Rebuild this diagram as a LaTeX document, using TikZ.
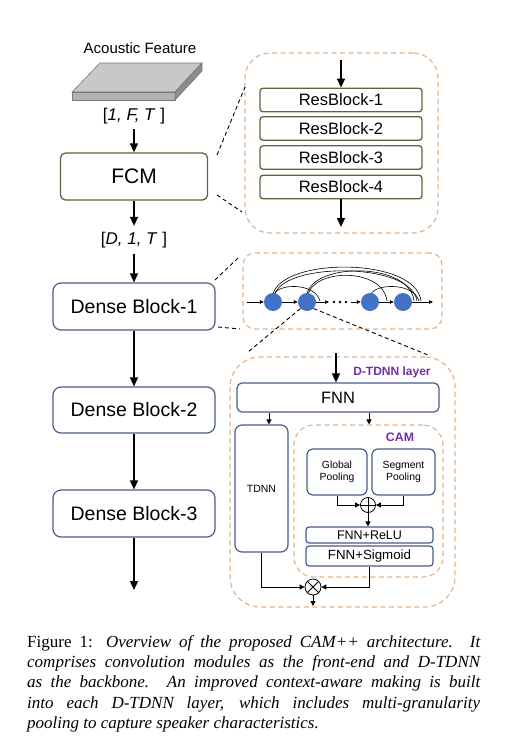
\documentclass[tikz,border=0pt]{standalone}
\usepackage{fontspec}
\setmainfont{Liberation Serif}
\setsansfont{Liberation Sans}
\renewcommand{\familydefault}{\sfdefault}
\usetikzlibrary{arrows.meta,calc}
\definecolor{fcmgreen}{RGB}{84,106,60}
\definecolor{boxblue}{RGB}{72,92,140}
\definecolor{dashtan}{RGB}{228,178,140}
\definecolor{camblue}{RGB}{68,114,196}
\definecolor{lblpurple}{RGB}{112,48,160}
\definecolor{slabtop}{RGB}{200,200,200}
\definecolor{slabfront}{RGB}{178,178,178}
\definecolor{slabside}{RGB}{140,140,140}
\definecolor{slabedge}{RGB}{120,120,120}
\begin{document}
\begin{tikzpicture}[x=1pt,y=-1pt,
 arr/.style={-{Triangle[length=9pt,width=8pt]},line width=1.4pt},
 sarr/.style={-{Triangle[length=5pt,width=5pt]},line width=0.9pt},
 tarr/.style={-{Triangle[length=4pt,width=3.5pt]},line width=0.7pt},
 gbox/.style={draw=fcmgreen,line width=1.3pt,rounded corners=5pt,fill=white,inner sep=0pt},
 bbox/.style={draw=boxblue,line width=1.2pt,rounded corners=5pt,fill=white,inner sep=0pt},
 zbox/.style={draw=dashtan,line width=1.2pt,dash pattern=on 5pt off 3.5pt,inner sep=0pt},
 conn/.style={line width=0.9pt,dash pattern=on 4pt off 3pt},
 dnode/.style={circle,fill=camblue,minimum size=18pt,inner sep=0pt},
 darc/.style={line width=0.6pt},
 lbl/.style={inner sep=0pt},
 opnode/.style={circle,draw,line width=0.8pt,inner sep=0pt,fill=white}]
\useasboundingbox (0,0) rectangle (505,745);

% ---------- left column ----------
\node[lbl,font=\sffamily\fontsize{15}{18}\selectfont] (feat) at (140,48) {Acoustic Feature};
\filldraw[fill=slabtop,draw=slabedge,line width=0.6pt] (100,63) -- (202,63) -- (175,92) -- (72,92) -- cycle;
\filldraw[fill=slabfront,draw=slabedge,line width=0.6pt] (72,92) -- (175,92) -- (175,100) -- (72,100) -- cycle;
\filldraw[fill=slabside,draw=slabedge,line width=0.6pt] (175,92) -- (202,63) -- (202,71) -- (175,100) -- cycle;

\node[inner xsep=0pt,inner ysep=5pt,font=\sffamily\fontsize{17}{20}\selectfont] (dim1) at (134,116) {[\textit{1, F, T} ]};
\node[gbox,minimum width=147pt,minimum height=47pt,font=\sffamily\fontsize{21}{24}\selectfont] (fcm) at (134,176.5) {FCM};
\node[inner xsep=0pt,inner ysep=6pt,font=\sffamily\fontsize{17}{20}\selectfont] (dim2) at (134,240) {[\textit{D, 1, T} ]};
\node[bbox,minimum width=162pt,minimum height=47pt,rounded corners=8pt,font=\sffamily\fontsize{19.5}{22}\selectfont] (db1) at (134,306.5) {Dense Block-1};
\node[bbox,minimum width=162pt,minimum height=46pt,rounded corners=8pt,font=\sffamily\fontsize{19.5}{22}\selectfont] (db2) at (134,410) {Dense Block-2};
\node[bbox,minimum width=162pt,minimum height=47pt,rounded corners=8pt,font=\sffamily\fontsize{19.5}{22}\selectfont] (db3) at (134,513.5) {Dense Block-3};
\coordinate (mainout) at (134,590);

\draw[arr] (dim1.south) -- (fcm.north);
\draw[arr] (fcm.south) -- (dim2.north);
\draw[arr] (dim2.south) -- (db1.north);
\draw[arr] (db1.south) -- (db2.north);
\draw[arr] (db2.south) -- (db3.north);
\draw[arr] (db3.south) -- (mainout);

% ---------- FCM zoom ----------
\node[zbox,rounded corners=25pt,minimum width=193pt,minimum height=180pt] (fcmzoom) at (341.5,143) {};
\node[gbox,minimum width=162pt,minimum height=23.5pt,rounded corners=3pt,font=\sffamily\fontsize{16.5}{19}\selectfont] (rb1) at (341,100) {ResBlock-1};
\node[gbox,minimum width=162pt,minimum height=23.5pt,rounded corners=3pt,font=\sffamily\fontsize{16.5}{19}\selectfont] (rb2) at (341,128.5) {ResBlock-2};
\node[gbox,minimum width=162pt,minimum height=23.5pt,rounded corners=3pt,font=\sffamily\fontsize{16.5}{19}\selectfont] (rb3) at (341,157.5) {ResBlock-3};
\node[gbox,minimum width=162pt,minimum height=23.5pt,rounded corners=3pt,font=\sffamily\fontsize{16.5}{19}\selectfont] (rb4) at (341,187) {ResBlock-4};
\coordinate (rbin) at (341,60);
\coordinate (rbout) at (341,227);
\draw[arr] (rbin) -- (rb1.north);
\draw[arr] (rb4.south) -- (rbout);

\coordinate (f1a) at (217,155); \coordinate (f1b) at (245,87);
\coordinate (f2a) at (217,195); \coordinate (f2b) at (242,212);
\draw[conn] (f1a) -- (f1b);
\draw[conn] (f2a) -- (f2b);

% ---------- Dense block zoom ----------
\node[zbox,rounded corners=12pt,minimum width=199pt,minimum height=76pt] (dzoom) at (342.5,291) {};
\coordinate (d1a) at (215,280); \coordinate (d1b) at (238,258);
\coordinate (d2a) at (218,327); \coordinate (d2b) at (240,329);
\draw[conn] (d1a) -- (d1b);
\draw[conn] (d2a) -- (d2b);

% arcs
\draw[darc] (274,294) .. controls (280,283) and (315,283) .. (320,301);
\draw[darc] (275,294) .. controls (285,262) and (412,262) .. (417,301);
\draw[darc] (273,294) .. controls (283,257) and (416,257) .. (421,301);
\draw[darc] (308,294) .. controls (316,268) and (383,268) .. (387,301);
\draw[darc] (307,294) .. controls (314,262) and (410,262) .. (414,301);
\draw[darc] (371,294) .. controls (377,283) and (414,283) .. (419,301);

\coordinate (lin) at (247,302);
\node[dnode] (c1) at (273,302) {};
\node[dnode] (c2) at (307,302) {};
\node[dnode] (c3) at (370,302) {};
\node[dnode] (c4) at (403,302) {};
\coordinate (dd1) at (329,302);
\coordinate (dd2) at (351,302);
\coordinate (lout) at (433,302);
\draw[tarr] (lin) -- (c1);
\draw[tarr] (c1) -- (c2);
\draw[tarr] (c2) -- (dd1);
\draw[tarr] (dd2) -- (c3);
\draw[tarr] (c3) -- (c4);
\draw[tarr] (c4) -- (lout);
\foreach \x in {334,340,346} \fill (\x,302) circle (1.4pt);

\coordinate (e1) at (248,352); \coordinate (e2) at (428,355);
\draw[conn] (c2.south west) -- (e1);
\draw[conn] (c2.south east) -- (e2);

% ---------- D-TDNN layer ----------
\node[zbox,rounded corners=30pt,minimum width=225pt,minimum height=250pt] (dtdnn) at (342.5,482) {};
\node[lbl,text=lblpurple,font=\sffamily\bfseries\fontsize{12}{14}\selectfont] (dtl) at (392,372) {D-TDNN layer};
\node[bbox,minimum width=202pt,minimum height=29pt,font=\sffamily\fontsize{16.5}{19}\selectfont] (fnn) at (338,397.5) {FNN};
\coordinate (dtin) at (336,353);
\draw[arr] (dtin) -- (dtin |- fnn.north);

\node[bbox,minimum width=53pt,minimum height=127pt,rounded corners=7pt,font=\sffamily\fontsize{10.5}{12}\selectfont] (tdnn) at (261.5,488.5) {TDNN};
\node[zbox,rounded corners=20pt,minimum width=149pt,minimum height=152pt] (cam) at (368.5,501) {};
\node[lbl,text=lblpurple,font=\sffamily\bfseries\fontsize{12.3}{14}\selectfont] (caml) at (400,437) {CAM};
\coordinate (tx) at (269,0);
\coordinate (cx) at (369,0);
\draw[sarr] (fnn.south -| tx) -- (tdnn.north -| tx);
\draw[sarr] (fnn.south -| cx) -- (cam.north -| cx);

\node[bbox,minimum width=60pt,minimum height=46pt,rounded corners=6pt,align=center,font=\sffamily\fontsize{10.4}{12.5}\selectfont] (glob) at (337,472) {Global\\Pooling};
\node[bbox,minimum width=63pt,minimum height=46pt,rounded corners=6pt,align=center,font=\sffamily\fontsize{10.4}{12.5}\selectfont] (seg) at (403.5,472) {Segment\\Pooling};
\node[opnode,minimum size=15pt] (plus) at (368,505) {};
\draw[line width=0.8pt] (plus.north) -- (plus.south) (plus.west) -- (plus.east);
\draw[sarr] (glob.south) |- (plus.west);
\draw[sarr] (seg.south) |- (plus.east);

\node[bbox,minimum width=127pt,minimum height=16pt,rounded corners=3pt,font=\sffamily\fontsize{12.5}{14}\selectfont] (relu) at (369.5,535) {FNN+ReLU};
\node[bbox,minimum width=127pt,minimum height=20pt,rounded corners=3pt,font=\sffamily\fontsize{13.3}{15}\selectfont] (sig) at (369.5,556) {FNN+Sigmoid};
\draw[sarr] (plus.south) -- (plus.south |- relu.north);

\node[opnode,minimum size=16pt] (ot) at (313,587) {};
\draw[line width=0.8pt] (ot.north east) -- (ot.south west) (ot.north west) -- (ot.south east);
\draw[sarr] (tdnn.south) |- (ot.west);
\draw[sarr] (sig.south) |- (ot.east);
\coordinate (dtout) at (313,606);
\draw[sarr] (ot.south) -- (dtout);

% ---------- caption ----------
\node[anchor=north west,inner sep=0pt,text width=453pt,align=justify,font=\rmfamily\fontsize{17}{20.4}\selectfont] (cap) at (27,632.7)
{\strut Figure 1: \textit{Overview of the proposed CAM++ architecture. It\linebreak comprises convolution modules as the front-end and D-TDNN\linebreak as the backbone. An improved context-aware making is built\linebreak into each D-TDNN layer, which includes multi-granularity\linebreak pooling to capture speaker characteristics.}};
\end{tikzpicture}
\end{document}
